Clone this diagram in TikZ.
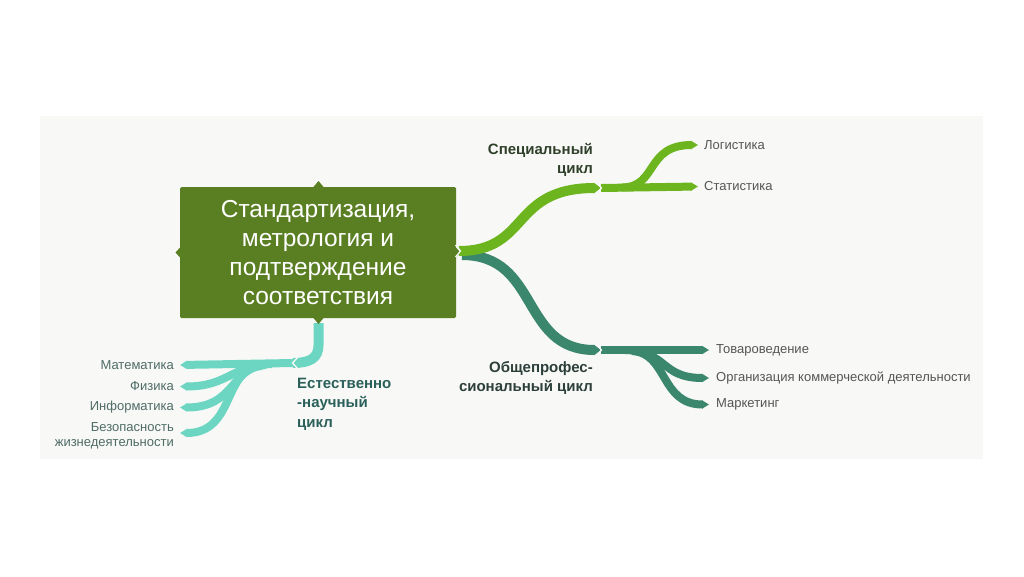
\documentclass[tikz,border=0pt]{standalone}
\usepackage{fontspec}
\setmainfont{Liberation Sans}
\usetikzlibrary{arrows.meta}
\definecolor{panel}{HTML}{F8F9F7}
\definecolor{boxgreen}{HTML}{5A7E22}
\definecolor{lgreen}{HTML}{6CB51F}
\definecolor{teal}{HTML}{3A876E}
\definecolor{aqua}{HTML}{6DD6C2}
\definecolor{lbldark}{HTML}{2F3F2A}
\definecolor{lblteal}{HTML}{2D3F3A}
\definecolor{lblaqua}{HTML}{2A5F5A}
\definecolor{leafgray}{HTML}{555555}
\definecolor{leafaqua}{HTML}{4F6B66}
\tikzset{
  mainbr/.style={line width=10pt,-{Triangle[width=10pt,length=7pt]}},
  subbr/.style={line width=8pt,-{Triangle[width=8pt,length=7pt]}},
  notch/.style={panel,line width=1.3pt},
  catlbl/.style={font=\fontsize{15}{19.5}\selectfont\bfseries,inner sep=0pt},
  leaf/.style={font=\fontsize{13}{15}\selectfont,inner sep=0pt},
  tab/.style={fill=boxgreen,draw=none},
}
\begin{document}
\begin{tikzpicture}[x=1pt,y=-1pt]
\useasboundingbox (0,0) rectangle (1024,576);
\fill[white] (0,0) rectangle (1024,576);
\fill[panel] (40,116) rectangle (983,459);

% root box
\node[fill=boxgreen,minimum width=276pt,minimum height=131pt,rounded corners=1.5pt,inner sep=0pt,
      text=white,align=center,font=\fontsize{24.5}{29}\selectfont] (root) at (318,252.5)
  {Стандартизация,\\метрология и\\подтверждение\\соответствия};
\fill[tab] (313,187.5) -- (318.5,181) -- (324,187.5) -- cycle;
\fill[tab] (180.5,247) -- (175.5,252.5) -- (180.5,258) -- cycle;
\fill[tab] (455.5,247) -- (460.5,252.5) -- (455.5,258) -- cycle;

% coordinates
\coordinate (rs) at (459,251);
\coordinate (rt) at (462,255);
\coordinate (sj) at (601,188);
\coordinate (oj) at (601,350);
\coordinate (bs) at (318.5,323);
\coordinate (ej) at (293,363);

% labels
\node[catlbl,text=lbldark,align=right,anchor=east] (spec) at (593,160) {Специальный\\цикл};
\node[catlbl,text=lblteal,align=right,anchor=east] (obsh) at (593,378) {Общепрофес-\\сиональный цикл};
\node[catlbl,text=lblaqua,align=left,anchor=west] (est) at (297,404) {Естественно\\-научный\\цикл};

\node[leaf,text=leafgray,anchor=west] (log) at (704,145) {Логистика};
\node[leaf,text=leafgray,anchor=west] (stat) at (704,186.5) {Статистика};
\node[leaf,text=leafgray,anchor=west] (tov) at (716,350) {Товароведение};
\node[leaf,text=leafgray,anchor=west] (org) at (716,378) {Организация коммерческой деятельности};
\node[leaf,text=leafgray,anchor=west] (mar) at (716,404.5) {Маркетинг};

\node[leaf,text=leafaqua,anchor=east] (mat) at (174,365) {Математика};
\node[leaf,text=leafaqua,anchor=east] (fiz) at (174,386.5) {Физика};
\node[leaf,text=leafaqua,anchor=east] (inf) at (174,407.5) {Информатика};
\node[leaf,text=leafaqua,anchor=east,align=right] (bez) at (174,435.5) {Безопасность\\жизнедеятельности};

% teal branch (under green)
\draw[mainbr,teal] (rt) .. controls (540,255) and (520,350) .. (oj);
\draw[subbr,teal] (oj) -- ([xshift=-7pt]tov.west);
\draw[subbr,teal] (625,350) .. controls (668,351) and (660,378) .. ([xshift=-7pt]org.west);
\draw[subbr,teal] (632,351) .. controls (668,353) and (660,404.5) .. ([xshift=-7pt]mar.west);
\draw[notch] (596,344) -- (601.5,350) -- (596,356);

% light green branch
\draw[mainbr,lgreen] (rs) .. controls (530,251) and (510,188) .. (sj);
\draw[subbr,lgreen] (sj) -- ([xshift=-6pt]stat.west);
\draw[subbr,lgreen] (622,187.5) .. controls (658,187) and (645,145) .. ([xshift=-6pt]log.west);
\draw[notch] (596,182) -- (601.5,188) -- (596,194);
\draw[notch] (455.5,245) -- (460.5,251) -- (455.5,257);

% aqua branch
\draw[mainbr,aqua,-] (bs) -- (318.5,345) .. controls (318.5,358) and (310,363) .. (ej);
\draw[subbr,aqua] (ej) -- ([xshift=6pt]mat.east);
\draw[subbr,aqua] (272,364) .. controls (232,365) and (228,386.5) .. ([xshift=6pt]fiz.east);
\draw[subbr,aqua] (266,365) .. controls (230,367) and (236,407.5) .. ([xshift=6pt]inf.east);
\draw[subbr,aqua] (262,366) .. controls (222,368) and (236,433) .. ([xshift=6pt]bez.east |- 0,433);
\draw[notch] (298,357) -- (292.5,363) -- (298,369);
\fill[tab] (313,317.5) -- (318.5,324) -- (324,317.5) -- cycle;
\end{tikzpicture}
\end{document}
